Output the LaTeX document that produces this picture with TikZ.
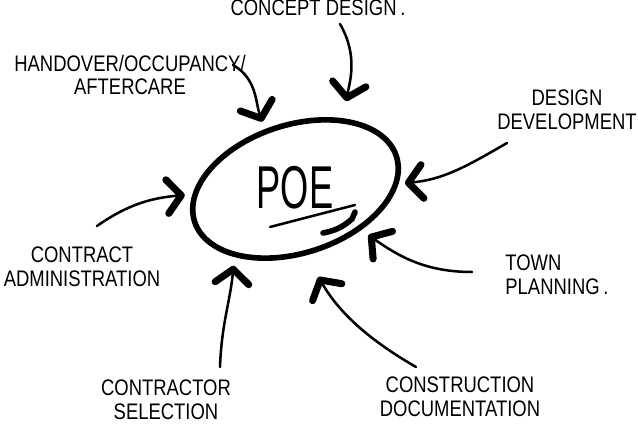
\documentclass[tikz,border=0pt]{standalone}
\usepackage{fontspec}
\setmainfont{Liberation Sans}[FakeStretch=0.82]
\newfontfamily\poefont{Liberation Sans}[FakeStretch=0.6]
\usetikzlibrary{arrows.meta,shapes.geometric}

\begin{document}
\begin{tikzpicture}[x=0.025cm, y=0.025cm,
        stage/.style={font=\fontsize{16}{17}\selectfont, align=center, inner sep=0pt},
        ring/.style={ellipse, draw, line width=4pt, minimum width=5.3cm, minimum height=3.2cm, inner sep=0pt, rotate=18},
        feed/.style={line width=1.8pt, line cap=round, -{Straight Barb[length=10pt, width=24pt, line width=5pt, round]}}
    ]
    \useasboundingbox (0,0) rectangle (638,425);

    % Centre
    \node[ring] (ring) at (295.5,236) {};
    \node[font=\poefont\fontsize{43}{43}\selectfont, inner sep=0pt] (poe) at (295,237) {POE};
    \draw[line width=1.8pt, line cap=round] (270,198) -- (355,220);
    \draw[line width=4pt, line cap=round] (323,192) to[bend right=15] (352,206) -- (355,213);

    % Stages
    \node[stage, anchor=base] (concept) at (318,409) {CONCEPT DESIGN\,.};
    \node[stage] (handover) at (130,350) {HANDOVER/OCCUPANCY/\\AFTERCARE};
    \node[stage] (design) at (567,315) {DESIGN\\DEVELOPMENT};
    \node[stage, align=left] (town) at (557,150) {TOWN\\PLANNING\,.};
    \node[stage] (documentation) at (460,28) {CONSTRUCTION\\DOCUMENTATION};
    \node[stage] (selection) at (166,25) {CONTRACTOR\\SELECTION};
    \node[stage] (admin) at (82,158) {CONTRACT\\ADMINISTRATION};

    % Tails
    \coordinate (concept-tail) at (340,401);
    \coordinate (handover-tail) at (233,360);
    \coordinate (design-tail) at (507,282);
    \coordinate (town-tail) at (472,153);
    \coordinate (documentation-tail) at (416,58);
    \coordinate (selection-tail) at (220,58);
    \coordinate (admin-tail) at (97,199);

    % Arrows
    \draw[feed, shorten >=12.3pt] (concept-tail) to[out=-60, in=80] (ring.38);
    \draw[feed, shorten >=5.5pt] (handover-tail) to[out=-30, in=110] (ring.99);
    \draw[feed, shorten >=4.5pt] (design-tail) to[out=210, in=5] (ring.345);
    \draw[feed, shorten >=6.2pt] (town-tail) to[out=180, in=-35] (ring.310);
    \draw[feed, shorten >=17.6pt] (documentation-tail) to[out=150, in=-60] (ring.261);
    \draw[feed, shorten >=6.2pt] (selection-tail) to[out=88, in=-95] (ring.210);
    \draw[feed, shorten >=5.4pt] (admin-tail) to[out=35, in=185] (ring.165);

\end{tikzpicture}
\end{document}
